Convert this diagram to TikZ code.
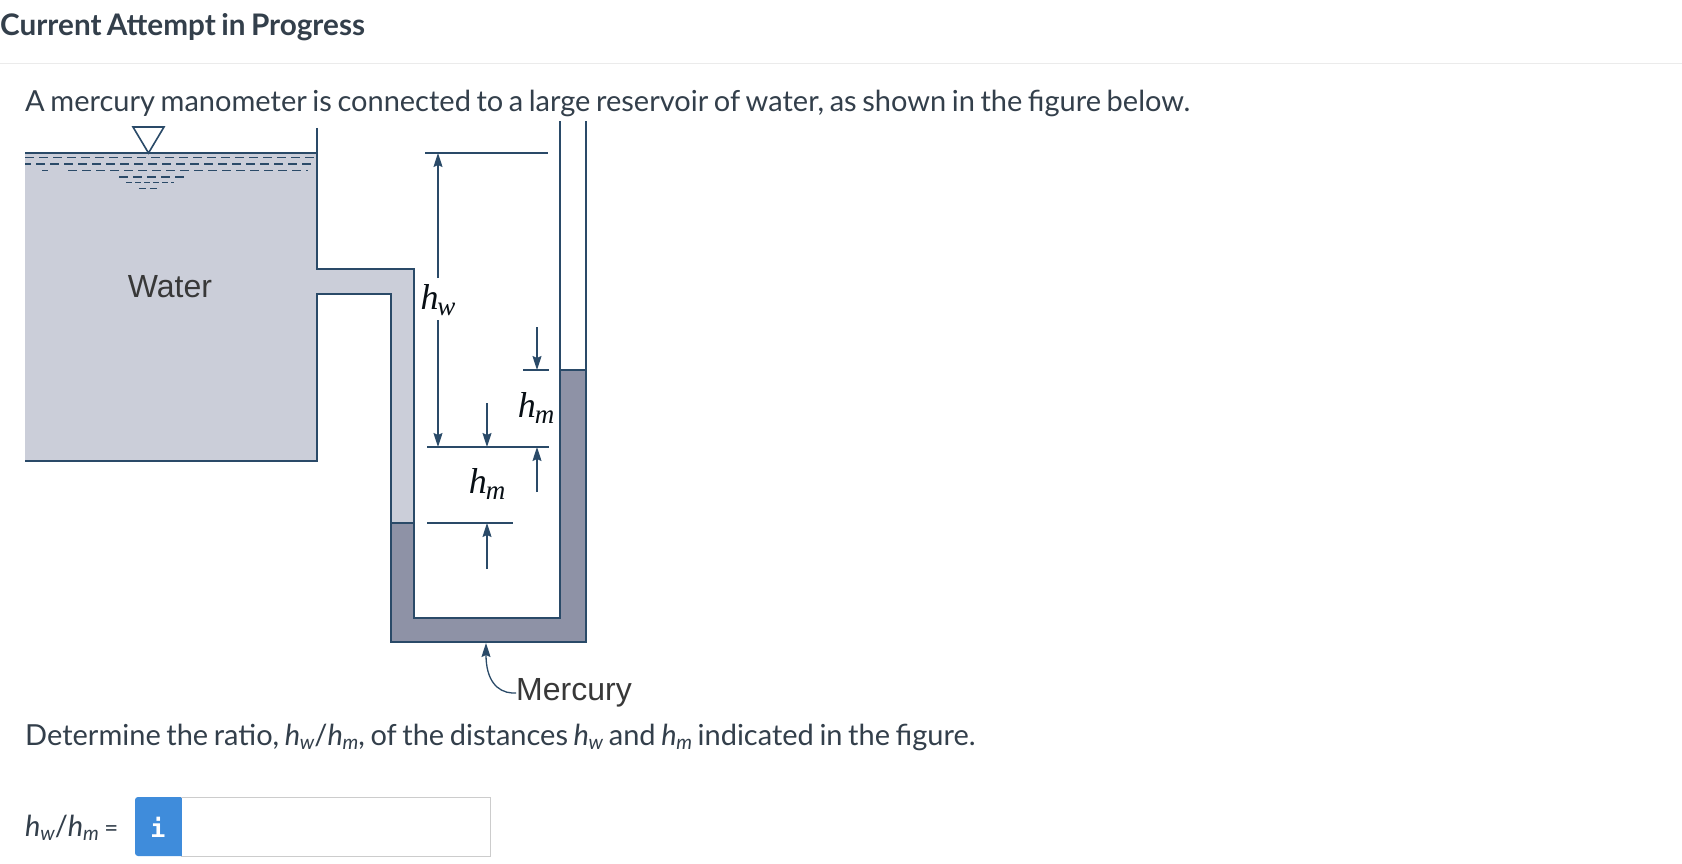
\documentclass[tikz,border=0pt]{standalone}
\usepackage{fontspec}
\setmainfont[WordSpace=0.75]{Lato}
\newfontfamily\figfont{Liberation Sans}
\newfontfamily\dimfont{Liberation Serif}
\newfontfamily\infofont{DejaVu Sans Mono}
\usetikzlibrary{arrows.meta}
\definecolor{linec}{HTML}{2A4A68}
\definecolor{waterc}{HTML}{CBCED9}
\definecolor{mercc}{HTML}{8E92A6}
\definecolor{textc}{HTML}{333F4B}
\definecolor{infoc}{HTML}{3F8CDB}
\definecolor{boxc}{HTML}{CCCCCC}
\newcommand{\hsb}[1]{\textit{h}\kern-0.3pt\lower4pt\hbox{\fontsize{20}{22}\selectfont\textit{#1}}}
\newcommand{\dsb}[1]{\textit{h}\kern-1pt\lower6pt\hbox{\fontsize{27}{28}\selectfont\textit{#1}}}
\tikzset{
  x=1pt,y=-1pt,
  wall/.style={draw=linec,line width=1.6pt,line cap=butt},
  dim/.style={draw=linec,line width=1.4pt},
  dimarrow/.style={draw=linec,line width=1.3pt,-{Stealth[length=14pt,width=9pt,inset=2pt]}},
  ripple/.style={draw=linec,line width=1.5pt,dash pattern=on 9pt off 5pt},
  body/.style={anchor=base west,inner sep=0pt,text=textc,font=\fontsize{29}{32}\selectfont},
  figtext/.style={inner sep=0pt,text=black!78,font=\figfont\fontsize{32}{34}\selectfont},
  dimlabel/.style={inner sep=0pt,text=black!80!linec,font=\dimfont\fontsize{36}{38}\selectfont},
}
\begin{document}
\begin{tikzpicture}
\useasboundingbox (0,0) rectangle (1682,864);
\fill[white] (0,0) rectangle (1682,864);
% heading
\node[body,font=\bfseries\fontsize{29.7}{30}\selectfont] (head) at (0,36) {Current Attempt in Progress};
\draw[black!8,line width=1pt] (0,64) -- (1682,64);
\node[body] (q1) at (25,112) {A mercury manometer is connected to a large reservoir of water, as shown in the figure below.};
\node[body] (q2) at (25,745) {Determine the ratio, \hsb{w}/\hsb{m}, of the distances \hsb{w} and \hsb{m} indicated in the figure.};
\node[body] (ans) at (25,836) {\hsb{w}/\hsb{m}\ {\fontsize{24}{26}\selectfont =}};
% answer field
\draw[boxc,line width=1pt,fill=white] (181,797) rectangle (490.5,856);
\path[fill=infoc,rounded corners=3pt] (135,797) rectangle (185,856);
\fill[infoc] (170,797) rectangle (181.5,856);
\fill[white] (181.5,797.5) rectangle (190,855.5);
\draw[boxc,line width=1pt] (181,797) -- (490.5,797);
\draw[boxc,line width=1pt] (181,856) -- (490.5,856);
\node[inner sep=0pt,text=white,font=\infofont\bfseries\fontsize{25}{28}\selectfont] (info) at (158,827) {i};
% fills
\fill[waterc] (25,153) -- (317,153) -- (317,269) -- (414,269) -- (414,523) -- (391,523) -- (391,294) -- (317,294) -- (317,461) -- (25,461) -- cycle;
\fill[mercc] (391,523) -- (414,523) -- (414,618) -- (560,618) -- (560,370) -- (586,370) -- (586,642) -- (391,642) -- cycle;
% walls
\draw[wall] (317,128) -- (317,269) -- (414,269) -- (414,618) -- (560,618) -- (560,121);
\draw[wall] (25,461) -- (317,461) -- (317,294) -- (391,294) -- (391,642) -- (586,642) -- (586,121);
\draw[wall] (25,153) -- (317,153);
\draw[wall] (391,523) -- (414,523);
\draw[wall] (560,370) -- (586,370);
% water surface symbol
\draw[wall,line join=miter] (133,127) -- (164,127) -- (148.5,153) -- cycle;
\draw[ripple] (25,157.5) -- (317,157.5);
\draw[ripple,dash phase=3pt] (25,164) -- (317,164);
\draw[ripple] (68,170.5) -- (308,170.5);
\draw[ripple] (42,170.5) -- (48,170.5);
\draw[ripple,line width=1.3pt] (119,177) -- (184,177);
\draw[ripple,line width=1.3pt,dash pattern=on 6pt off 3pt] (126,182.5) -- (174,182.5);
\draw[ripple,line width=1.3pt,dash pattern=on 7pt off 4pt] (139,188.5) -- (159,188.5);
% dimension rules
\coordinate (topL) at (425,153); \coordinate (topR) at (548,153);
\coordinate (midL) at (427,447); \coordinate (midR) at (549,447);
\coordinate (lowL) at (427,523); \coordinate (lowR) at (513,523);
\coordinate (hiL) at (523,370);  \coordinate (hiR) at (549,370);
\draw[dim] (topL) -- (topR);
\draw[dim] (midL) -- (midR);
\draw[dim] (lowL) -- (lowR);
\draw[dim] (hiL) -- (hiR);
% labels
\node[dimlabel] (hw) at (438,300) {\dsb{w}};
\node[dimlabel] (hm1) at (536,408) {\dsb{m}};
\node[dimlabel] (hm2) at (487,484) {\dsb{m}};
\node[figtext] (water) at (170,287) {Water};
\node[figtext,anchor=west] (merc) at (516,693) {Mercury};
% arrows
\coordinate (a1) at (438,278); \coordinate (a2) at (438,320);
\draw[dimarrow] (a1) -- (438,153);
\draw[dimarrow] (a2) -- (438,447);
\coordinate (b1) at (487,403); \coordinate (b2) at (487,447);
\draw[dimarrow] (b1) -- (b2);
\coordinate (c1) at (487,569); \coordinate (c2) at (487,523);
\draw[dimarrow] (c1) -- (c2);
\coordinate (d1) at (537,492); \coordinate (d2) at (537,447);
\draw[dimarrow] (d1) -- (d2);
\coordinate (e1) at (537,327); \coordinate (e2) at (537,370);
\draw[dimarrow] (e1) -- (e2);
\coordinate (m2) at (486,643);
\draw[dimarrow] (merc.west) -- ++(-4,0) .. controls (497,692) and (486,680) .. (m2);
\end{tikzpicture}
\end{document}
